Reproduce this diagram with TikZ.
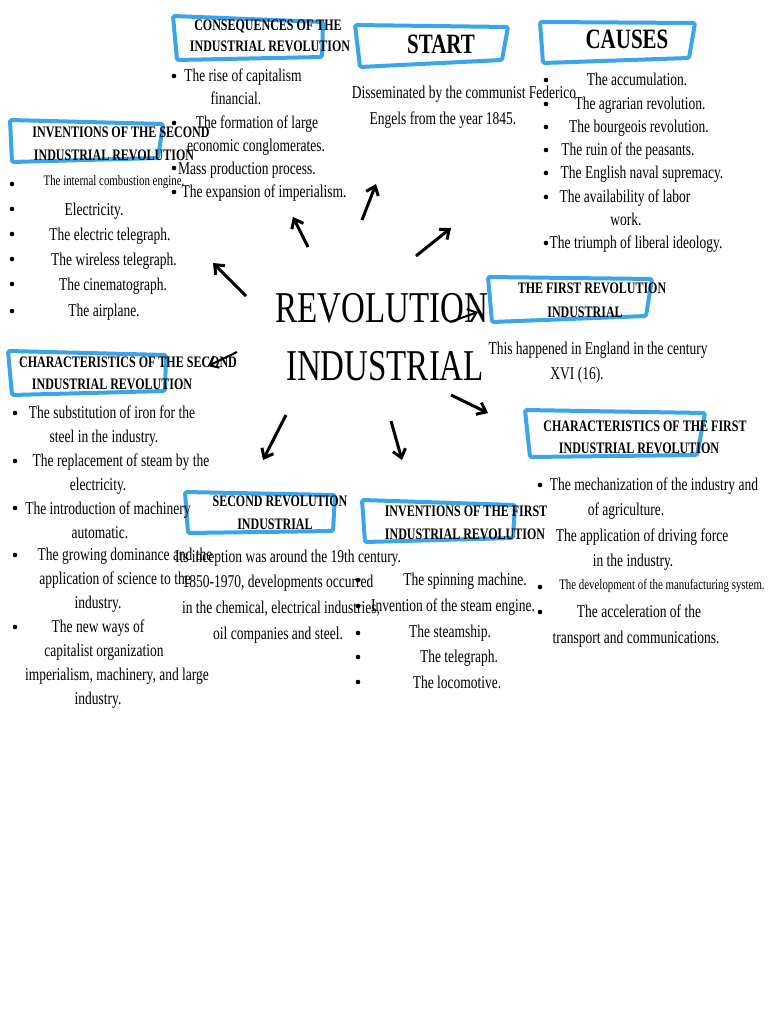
\documentclass[tikz,border=0pt]{standalone}
\usepackage{fontspec}
\setmainfont[FakeStretch=0.75]{Liberation Serif}
\usetikzlibrary{arrows.meta}
\definecolor{boxblue}{RGB}{58,164,236}
\tikzset{
  box/.style={draw=boxblue, line width=4pt, line join=round, rounded corners=1.5pt},
  head/.style={font=\bfseries\fontsize{16}{22}\selectfont, inner sep=0pt, anchor=mid, yshift=-2pt},
  txt/.style={font=\fontsize{18}{23}\selectfont, inner sep=0pt, anchor=mid, yshift=-3pt},
  smalltxt/.style={font=\fontsize{14.5}{18}\selectfont, inner sep=0pt, anchor=mid, yshift=-2pt},
  arr/.style={line width=3pt, -{Straight Barb[length=8pt,width=13pt]}},
}

\begin{document}
\begin{tikzpicture}[x=1pt, y=-1pt]
	\useasboundingbox (0,0) rectangle (768,1024);
	\fill[white] (0,0) rectangle (768,1024);

	% blue frames
	\draw[box] (173,16) -- (323,22) -- (322,57) -- (177,60) -- cycle;
	\draw[box] (355,25) -- (508,27) -- (502,60) -- (360,67) -- cycle;
	\draw[box] (540,22) -- (695,23) -- (689,58) -- (543,63) -- cycle;
	\draw[box] (10,120) -- (163,124) -- (158,158) -- (12,162) -- cycle;
	\draw[box] (488,277) -- (652,279) -- (646,316) -- (492,322) -- cycle;
	\draw[box] (8,351) -- (166,355) -- (165,391) -- (12,395) -- cycle;
	\draw[box] (185,492) -- (335,495) -- (333,531) -- (188,533) -- cycle;
	\draw[box] (362,500) -- (515,505) -- (513,538) -- (365,542) -- cycle;
	\draw[box] (525,410) -- (705,413) -- (697,455) -- (530,457) -- cycle;

	% centre
	\node[font=\fontsize{44}{50}\selectfont, inner sep=0pt, anchor=base] (rev) at (382,322) {REVOLUTION};
	\node[font=\fontsize{44}{50}\selectfont, inner sep=0pt, anchor=base] (ind) at (385,380) {INDUSTRIAL};

	% consequences
	\node[head] (consA) at (268,26) {CONSEQUENCES OF THE};
	\node[head] (consB) at (270,47) {INDUSTRIAL REVOLUTION};
	\node[txt] (cons1) at (243,76) {The rise of capitalism};
	\node[txt] (cons2) at (236,99) {financial.};
	\node[txt] (cons3) at (257,123) {The formation of large};
	\node[txt] (cons4) at (256,146) {economic conglomerates.};
	\node[txt] (cons5) at (247,169) {Mass production process.};
	\node[txt] (cons6) at (264,192) {The expansion of imperialism.};
	\foreach \y in {76,123,168,192} \fill (174,\y) circle (2.3);

	% start
	\node[font=\bfseries\fontsize{28}{30}\selectfont, inner sep=0pt, anchor=base] (start) at (441,54) {START};
	\node[txt] (start1) at (464,93) {Disseminated by the communist Federico};
	\node[txt] (start2) at (443,119) {Engels from the year 1845.};

	% causes
	\node[font=\bfseries\fontsize{28}{30}\selectfont, inner sep=0pt, anchor=base] (causes) at (627,49) {CAUSES};
	\node[txt] (caus1) at (637,80) {The accumulation.};
	\node[txt] (caus2) at (640,104) {The agrarian revolution.};
	\node[txt] (caus3) at (639,127) {The bourgeois revolution.};
	\node[txt] (caus4) at (628,150) {The ruin of the peasants.};
	\node[txt] (caus5) at (642,173) {The English naval supremacy.};
	\node[txt] (caus6) at (625,197) {The availability of labor};
	\node[txt] (caus7) at (626,220) {work.};
	\node[txt] (caus8) at (636,243) {The triumph of liberal ideology.};
	\foreach \y in {80,104,127,150,173,197,243} \fill (546,\y) circle (2.3);

	% inventions of the second
	\node[head] (invsA) at (121,133) {INVENTIONS OF THE SECOND};
	\node[head] (invsB) at (114,156) {INDUSTRIAL REVOLUTION};
	\node[smalltxt] (invs1) at (114,181) {The internal combustion engine.};
	\node[txt] (invs2) at (94,210) {Electricity.};
	\node[txt] (invs3) at (110,235) {The electric telegraph.};
	\node[txt] (invs4) at (114,260) {The wireless telegraph.};
	\node[txt] (invs5) at (113,285) {The cinematograph.};
	\node[txt] (invs6) at (104,311) {The airplane.};
	\foreach \y in {184,209,234,259,284,311} \fill (12,\y) circle (2.3);

	% first revolution
	\node[head] (firstA) at (592,289) {THE FIRST REVOLUTION};
	\node[head] (firstB) at (585,313) {INDUSTRIAL};
	\node[txt] (first1) at (598,349) {This happened in England in the century};
	\node[txt] (first2) at (577,374) {XVI (16).};

	% characteristics of the second
	\node[head] (charsA) at (128,363) {CHARACTERISTICS OF THE SECOND};
	\node[head] (charsB) at (112,385) {INDUSTRIAL REVOLUTION};
	\node[txt] (chars1) at (112,413) {The substitution of iron for the};
	\node[txt] (chars2) at (104,437) {steel in the industry.};
	\node[txt] (chars3) at (121,461) {The replacement of steam by the};
	\node[txt] (chars4) at (98,485) {electricity.};
	\node[txt] (chars5) at (108,509) {The introduction of machinery};
	\node[txt] (chars6) at (100,533) {automatic.};
	\node[txt] (chars7) at (125,555) {The growing dominance and the};
	\node[txt] (chars8) at (115,579) {application of science to the};
	\node[txt] (chars9) at (98,603) {industry.};
	\node[txt] (chars10) at (98,627) {The new ways of};
	\node[txt] (chars11) at (104,651) {capitalist organization};
	\node[txt] (chars12) at (117,675) {imperialism, machinery, and large};
	\node[txt] (chars13) at (98,699) {industry.};
	\foreach \y in {413,461,508,555,627} \fill (15,\y) circle (2.3);

	% second revolution
	\node[head] (secA) at (280,502) {SECOND REVOLUTION};
	\node[head] (secB) at (275,525) {INDUSTRIAL};
	\node[txt] (sec1) at (288,557) {Its inception was around the 19th century.};
	\node[txt] (sec2) at (278,582) {1850-1970, developments occurred};
	\node[txt] (sec3) at (281,608) {in the chemical, electrical industries,};
	\node[txt] (sec4) at (278,634) {oil companies and steel.};

	% inventions of the first
	\node[head] (invfA) at (466,512) {INVENTIONS OF THE FIRST};
	\node[head] (invfB) at (465,535) {INDUSTRIAL REVOLUTION};
	\node[txt] (invf1) at (465,580) {The spinning machine.};
	\node[txt] (invf2) at (453,606) {Invention of the steam engine.};
	\node[txt] (invf3) at (450,632) {The steamship.};
	\node[txt] (invf4) at (459,657) {The telegraph.};
	\node[txt] (invf5) at (457,683) {The locomotive.};
	\foreach \y in {580,606,633,657,682} \fill (358,\y) circle (2.3);

	% characteristics of the first
	\node[head] (charfA) at (645,427) {CHARACTERISTICS OF THE FIRST};
	\node[head] (charfB) at (639,449) {INDUSTRIAL REVOLUTION};
	\node[txt] (charf1) at (654,485) {The mechanization of the industry and};
	\node[txt] (charf2) at (626,510) {of agriculture.};
	\node[txt] (charf3) at (642,536) {The application of driving force};
	\node[txt] (charf4) at (633,561) {in the industry.};
	\node[smalltxt] (charf5) at (662,585) {The development of the manufacturing system.};
	\node[txt] (charf6) at (639,612) {The acceleration of the};
	\node[txt] (charf7) at (636,638) {transport and communications.};
	\foreach \y in {485,587,612} \fill (540,\y) circle (2.3);

	% arrows around the centre
	\foreach \n/\s/\e in {1/{308,247}/{293,217}, 2/{362,220}/{376,184}, 3/{416,256}/{451,228},
	                      4/{246,296}/{213,263}, 7/{451,395}/{488,413}, 8/{286,415}/{263,460},
	                      9/{391,421}/{402,460}} {
		\coordinate (t\n) at (\s);
		\coordinate (h\n) at (\e);
		\draw[arr] (t\n) -- (h\n);
	}
	\coordinate (t5) at (450,322);
	\coordinate (h5) at (478,312);
	\draw[arr, line width=2pt] (t5) -- (h5);
	\coordinate (t6) at (237,352);
	\coordinate (h6) at (208,366);
	\draw[arr, line width=2pt] (t6) -- (h6);
\end{tikzpicture}
\end{document}
